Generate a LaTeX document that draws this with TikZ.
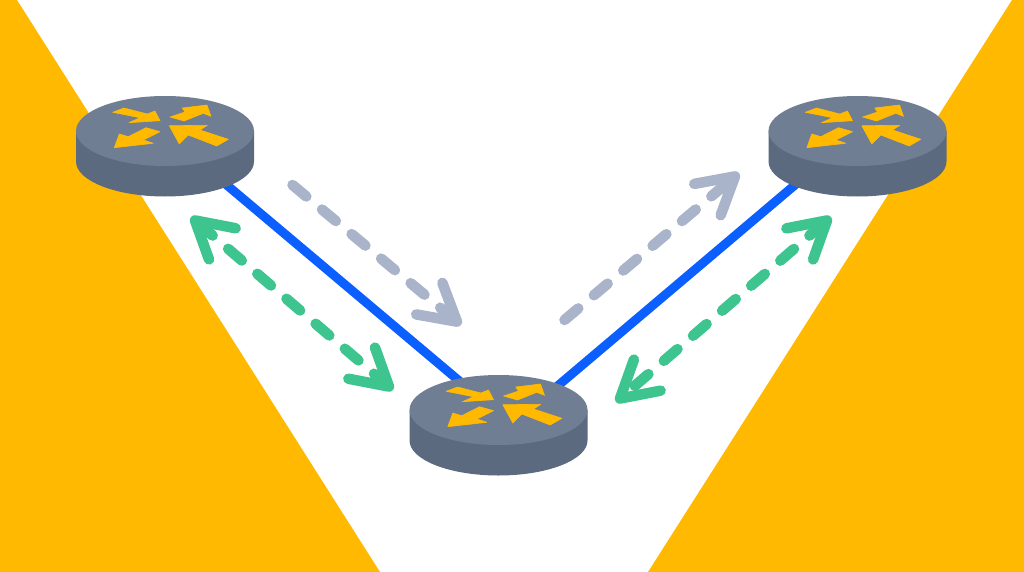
\documentclass[tikz,border=0pt]{standalone}
\usetikzlibrary{arrows.meta}
\definecolor{wedge}{HTML}{FFB900}
\definecolor{link}{HTML}{0B5FFF}
\definecolor{flowgray}{HTML}{A9B3C9}
\definecolor{flowgreen}{HTML}{3EC48F}
\definecolor{routertop}{HTML}{6F7E92}
\definecolor{routerside}{HTML}{5C6A80}
\tikzset{
  barb/.tip={Straight Barb[length=36pt,width=41pt,round]},
  flow/.style={
    line width=10.5pt,
    line cap=round,
    line join=round,
    dash pattern=on 18pt off 20.4pt
  },
  arrowmark/.style={fill=wedge,draw=wedge,line width=.6pt,line join=round},
  routerpic/.pic={
    \fill[routerside] (-89,0) -- (-89,30.5) arc[start angle=180,end angle=360,x radius=89,y radius=-35]
      -- (89,0) -- cycle;
    \fill[routertop] (0,0) ellipse[x radius=89,y radius=35];
    \filldraw[arrowmark] (-52.3,-18.7) -- (-41,-23) -- (-17.7,-17) -- (-10,-20) -- (-5,-10.3)
      -- (-36,-8.3) -- (-25,-13.3) -- cycle;
    \filldraw[arrowmark] (5,-14) -- (20,-19) -- (17.3,-23) -- (42,-26) -- (46,-14.7)
      -- (38.3,-17.7) -- (19,-10) -- cycle;
    \filldraw[arrowmark] (-5,.7) -- (-19,-3.3) -- (-36.7,5.7) -- (-45.7,3) -- (-50.7,16.7)
      -- (-11.7,12.3) -- (-21.7,9) -- cycle;
    \filldraw[arrowmark] (4.3,-5.3) -- (42.3,-5.7) -- (35,-1) -- (63.3,8.3) -- (51.7,15)
      -- (23.3,4) -- (14.3,13) -- cycle;
  }
}
\begin{document}
\begin{tikzpicture}[x=1pt,y=-1pt]
  \useasboundingbox (0,0) rectangle (1024,572);
  \fill[white] (0,0) rectangle (1024,572);

  \fill[wedge] (0,0) -- (17,0) -- (380,572) -- (0,572) -- cycle;
  \fill[wedge] (1012,0) -- (1024,0) -- (1024,572) -- (648,572) -- cycle;

  \coordinate (routerL) at (165,131);
  \coordinate (routerR) at (857.5,131);
  \coordinate (routerM) at (498.5,410);

  % links run under the routers
  \draw[link,line width=9pt] ([yshift=-2pt]routerL) -- ([yshift=-4pt]routerM);
  \draw[link,line width=9pt] ([yshift=-1pt]routerR) -- ([yshift=-26pt]routerM);

  \pic at (routerL) {routerpic};
  \pic at (routerR) {routerpic};
  \pic at (routerM) {routerpic};

  \coordinate (grayA) at (292.5,185);
  \coordinate (grayB) at (461,325);
  \coordinate (grayC) at (564.5,320);
  \coordinate (grayD) at (739,173);
  \coordinate (greenA) at (191,217);
  \coordinate (greenB) at (393,390);
  \coordinate (greenC) at (831,217);
  \coordinate (greenD) at (616,402);

  \draw[flow,flowgray,-barb] (grayA) -- (grayB);
  \draw[flow,flowgray,-barb] (grayC) -- (grayD);
  \draw[flow,flowgreen,barb-barb] (greenA) -- (greenB);
  \draw[flow,flowgreen,barb-barb] (greenC) -- (greenD);
\end{tikzpicture}
\end{document}
